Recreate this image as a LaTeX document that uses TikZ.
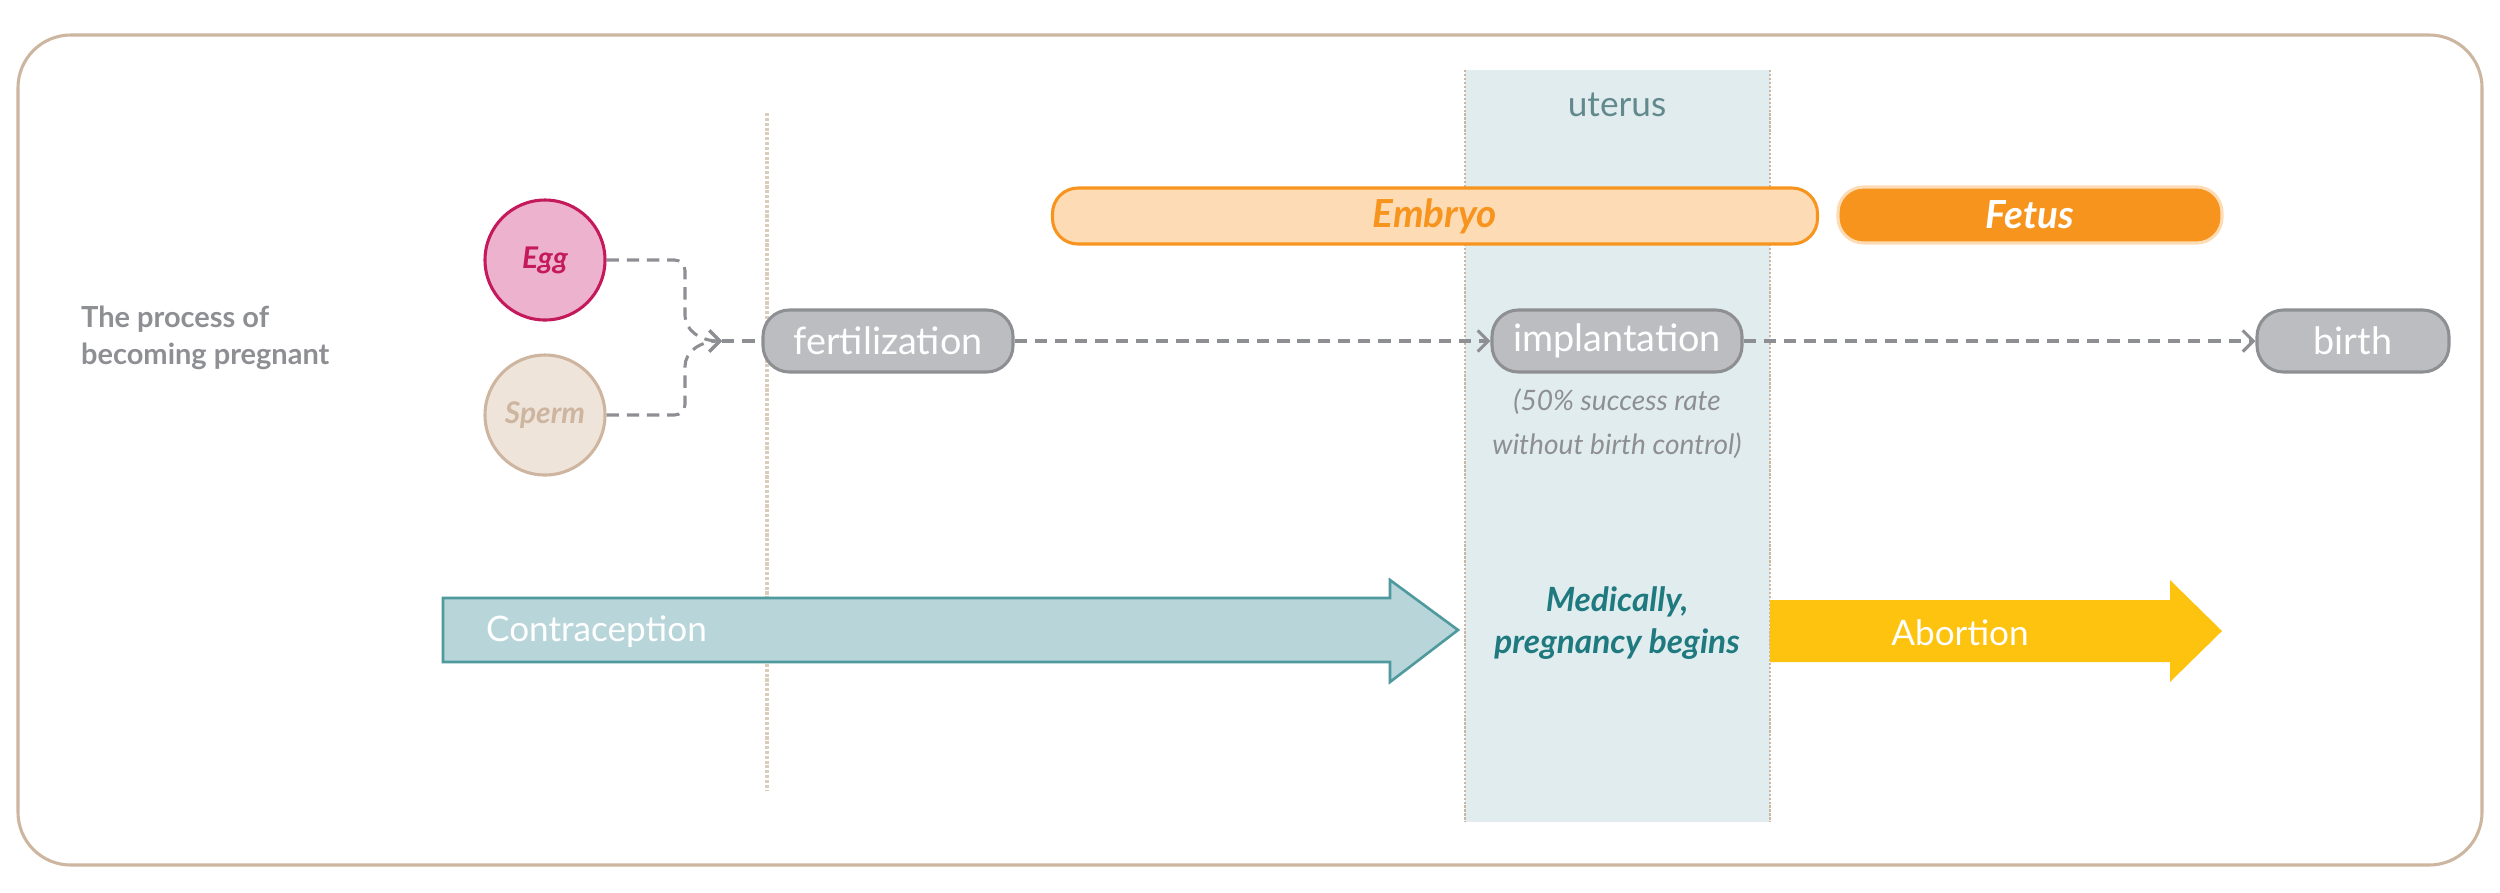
\documentclass[tikz,border=0pt]{standalone}
\usepackage{fontspec}
\setmainfont{Lato}
\usetikzlibrary{positioning,arrows.meta}

\definecolor{frame}{HTML}{CDB6A0}
\definecolor{uterusbg}{HTML}{E1ECEE}
\definecolor{uterustx}{HTML}{62898E}
\definecolor{pillfill}{HTML}{BCBDC0}
\definecolor{pilldraw}{HTML}{8E8F93}
\definecolor{eggfill}{HTML}{EDB2CD}
\definecolor{eggdraw}{HTML}{C41A5C}
\definecolor{spermfill}{HTML}{EFE4DA}
\definecolor{spermdraw}{HTML}{CDB5A0}
\definecolor{embfill}{HTML}{FDDBB4}
\definecolor{orng}{HTML}{F7941D}
\definecolor{contfill}{HTML}{B8D6DA}
\definecolor{contdraw}{HTML}{4F9A9F}
\definecolor{abort}{HTML}{FDC30F}
\definecolor{teal}{HTML}{1F7A80}
\definecolor{greytx}{HTML}{8E8F93}

\tikzset{
  stage/.style={rounded corners=30, fill=pillfill, draw=pilldraw, line width=3.5pt,
    text=white, minimum height=62*0.4mm, font=\fontsize{43}{50}\selectfont, inner sep=0pt},
  cell/.style={circle, minimum size=120*0.4mm, line width=3.5pt, inner sep=0pt,
    font=\fontsize{34}{38}\selectfont\itshape\bfseries},
  flow/.style={draw=pilldraw, line width=3.5pt, dash pattern=on 14pt off 9pt},
  tip/.style={-{Straight Barb[length=12pt,width=24pt,line width=3.5pt]}},
  note/.style={text=greytx, font=\fontsize{32}{50}\selectfont\itshape, align=center}
}

\begin{document}
\begin{tikzpicture}[x=0.4mm,y=-0.4mm]
\useasboundingbox (0,0) rectangle (2500,892);
\draw[frame, line width=3.5pt, rounded corners=60] (18,35) rectangle (2482,865);
% uterus band
\fill[uterusbg] (1465,70) rectangle (1770,822);
\draw[frame, line width=2.5pt, dotted] (1465,70) -- (1465,822) (1770,70) -- (1770,822);
\node[text=uterustx, font=\fontsize{40}{44}\selectfont] (uterus) at (1617,105) {uterus};
\draw[frame!70, line width=3.5pt, dotted] (767,113) -- (767,790);

% phases
\node[rounded corners=29, fill=embfill, draw=orng, line width=3.5pt, minimum width=765*0.4mm,
  minimum height=56*0.4mm, text=orng, font=\fontsize{44}{48}\selectfont\itshape\bfseries]
  (embryo) at (1435,216) {Embryo};
\node[rounded corners=29, fill=orng, draw=embfill, line width=3.5pt, minimum width=384*0.4mm,
  minimum height=56*0.4mm, text=white, font=\fontsize{44}{48}\selectfont\itshape\bfseries]
  (fetus) at (2030,215) {Fetus};

% process
\node[text=greytx, font=\fontsize{33}{42}\selectfont\bfseries, align=left, anchor=west]
  (title) at (78,338) {The process of\\becoming pregnant};
\node[cell, fill=eggfill, draw=eggdraw, text=eggdraw] (egg) at (545,260) {Egg};
\node[cell, fill=spermfill, draw=spermdraw, text=spermdraw] (sperm) at (545,415) {Sperm};
\node[stage, minimum width=250*0.4mm] (fert) at (888,341) {fertilization};
\node[stage, minimum width=250*0.4mm] (impl) at (1617,341) {implantation};
\node[stage, minimum width=192*0.4mm] (birth) at (2353,341) {birth};
\coordinate (join) at (722,341);
\draw[flow, tip, rounded corners=12] (egg.east) -- (685,260) -- (685,305)
  .. controls (685,330) and (700,341) .. (join);
\draw[flow, tip, rounded corners=12] (sperm.east) -- (685,415) -- (685,377)
  .. controls (685,352) and (700,341) .. (join);
\draw[flow] (join) -- (fert.west);
\draw[flow, tip] (fert.east) -- (impl.west);
\draw[flow, tip] (impl.east) -- (birth.west);
\node[note, below=14pt of impl] (rate) {(50\% success rate\\without birth control)};

% contraception and abortion
\draw[fill=contfill, draw=contdraw, line width=3pt, line join=miter]
  (443,598) -- (1390,598) -- (1390,580) -- (1458,630) -- (1390,682) -- (1390,662)
  -- (443,662) -- cycle;
\node[text=white, font=\fontsize{40}{44}\selectfont, anchor=west] (contra) at (483,632) {Contraception};
\fill[abort] (1770,600) -- (2170,600) -- (2170,580) -- (2222,631) -- (2170,682)
  -- (2170,662) -- (1770,662) -- cycle;
\node[text=white, font=\fontsize{40}{44}\selectfont] (abortion) at (1960,633) {Abortion};
\node[text=teal, font=\fontsize{38}{48}\selectfont\itshape\bfseries, align=center]
  (medic) at (1617,623) {Medically,\\pregnancy begins};
\end{tikzpicture}
\end{document}
